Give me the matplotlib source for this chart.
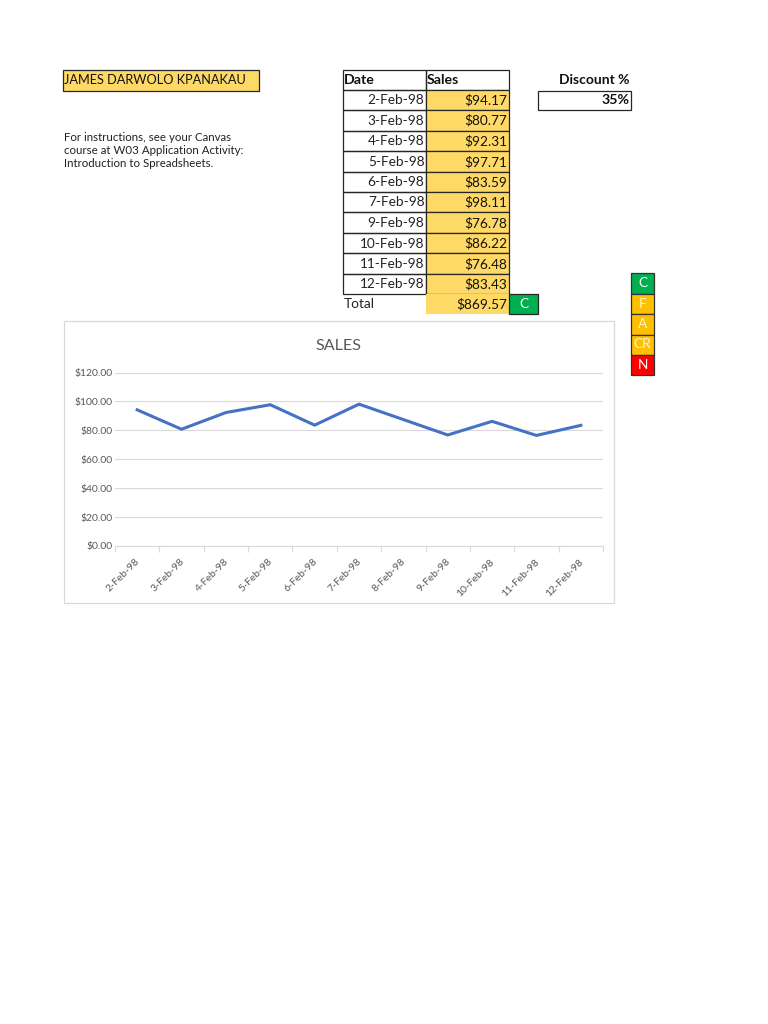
#!/usr/bin/env python
"""
Spreadsheet page with a sales table and a line chart of the daily sales.
"""

import matplotlib

matplotlib.use("Agg")
import matplotlib.pyplot as plt
from matplotlib.patches import Rectangle

plt.rcParams["font.family"] = ["Lato", "DejaVu Sans"]

dates = ["2-Feb-98", "3-Feb-98", "4-Feb-98", "5-Feb-98", "6-Feb-98", "7-Feb-98",
         "9-Feb-98", "10-Feb-98", "11-Feb-98", "12-Feb-98"]
sales = [94.17, 80.77, 92.31, 97.71, 83.59, 98.11, 76.78, 86.22, 76.48, 83.43]
sales_days = [2, 3, 4, 5, 6, 7, 9, 10, 11, 12]
total_label = "$869.57"

axis_days = [2, 3, 4, 5, 6, 7, 8, 9, 10, 11, 12]
axis_labels = ["2-Feb-98", "3-Feb-98", "4-Feb-98", "5-Feb-98", "6-Feb-98", "7-Feb-98",
               "8-Feb-98", "9-Feb-98", "10-Feb-98", "11-Feb-98", "12-Feb-98"]
y_ticks = [0, 20, 40, 60, 80, 100, 120]

grade_labels = ["C", "F", "A", "CR", "N"]
grade_colors = ["#00B050", "#FFC000", "#FFC000", "#FFC000", "#FF0000"]

row_edges = [70, 90, 110, 130.5, 151, 171.5, 192, 212, 233, 253, 273.5, 294, 314]
grade_edges = [273, 293.5, 314, 334.5, 354.5, 375]

YELLOW = "#FFD966"
EDGE = "#262626"
TEXT = "#111111"
W, H = 768, 1024

fig = plt.figure(figsize=(W / 100, H / 100), dpi=100, facecolor="white")

# full page axes in pixel units, for the cells
page = fig.add_axes([0, 0, 1, 1])
page.set_xlim(0, W)
page.set_ylim(H, 0)
page.axis("off")


def cell(x0, y0, x1, y1, fill="none", edge=EDGE, lw=0.9):
    page.add_patch(Rectangle((x0, y0), x1 - x0, y1 - y0, facecolor=fill,
                             edgecolor=edge, linewidth=lw))


def label(x, y, s, ha="left", size=9.8, color=TEXT, weight="normal"):
    page.text(x, y, s, ha=ha, va="center", fontsize=size, color=color, fontweight=weight)


# name and instructions
cell(62.6, 70, 259.1, 91, fill=YELLOW)
label(64, 80.5, "JAMES DARWOLO KPANAKAU", size=9.2)
for y, line in zip([137.5, 150.5, 163.5],
                   ["For instructions, see your Canvas",
                    "course at W03 Application Activity:",
                    "Introduction to Spreadsheets."]):
    label(64.5, y, line, size=8.3, color="#222222")

# sales table
cell(342.6, row_edges[0], 425.6, row_edges[1])
cell(425.6, row_edges[0], 509.1, row_edges[1])
label(344, 80, "Date", weight="bold", size=10.2)
label(427, 80, "Sales", weight="bold", size=10.2)
for i, (d, s) in enumerate(zip(axis_labels[:6] + axis_labels[7:], sales)):
    top, bottom = row_edges[i + 1], row_edges[i + 2]
    mid = (top + bottom) / 2 + 0.5
    cell(342.6, top, 425.6, bottom)
    cell(425.6, top, 509.1, bottom, fill=YELLOW)
    label(424.5, mid, d, ha="right", color="#222222")
    label(507.5, mid, f"${s:.2f}", ha="right")

# total row
page.add_patch(Rectangle((425.6, 294), 83.5, 20, facecolor=YELLOW, edgecolor="none"))
label(344, 304, "Total", color="#222222")
label(507.5, 304, total_label, ha="right")
cell(509.1, 293.5, 538.1, 314, fill="#00B050")
label(524, 304, "C", ha="center", color="white")

# discount
label(629.5, 80, "Discount %", ha="right", weight="bold", size=10)
cell(538.1, 90.5, 630.6, 110)
label(629.5, 100, "35%", ha="right", weight="bold", size=10.2)

# grade key
for i, (g, c) in enumerate(zip(grade_labels, grade_colors)):
    cell(630.6, grade_edges[i], 653.6, grade_edges[i + 1], fill=c, edge="#333333")
    label(642.5, (grade_edges[i] + grade_edges[i + 1]) / 2, g, ha="center",
          color="#FFF4D0" if c == "#FFC000" else "white")

# chart frame
cell(63.6, 321, 613.6, 603, fill="white", edge="#D9D9D9", lw=0.9)
page.text(338.5, 345.5, "SALES", ha="center", va="center", fontsize=11.6, color="#595959")

# chart
ax = fig.add_axes([115 / W, 1 - 546 / H, (603 - 115) / W, (546 - 372.5) / H])
ax.patch.set_alpha(0)
ax.plot(sales_days, sales, color="#4472C4", linewidth=2.2, solid_joinstyle="round")
ax.set_xlim(1.5, 12.5)
ax.set_ylim(0, 120)
ax.set_yticks(y_ticks)
ax.set_yticklabels([f"${v:.2f}" for v in y_ticks], fontsize=7.5, color="#595959")
ax.set_xticks([d - 0.5 for d in axis_days] + [12.5])
ax.set_xticklabels([])
ax.tick_params(axis="y", length=0, pad=2)
ax.tick_params(axis="x", length=4, color="#D9D9D9", width=0.8)
ax.grid(axis="y", color="#D9D9D9", linewidth=0.8)
ax.set_axisbelow(True)
for name in ["top", "left", "right"]:
    ax.spines[name].set_visible(False)
ax.spines["bottom"].set_color("#D9D9D9")
ax.spines["bottom"].set_linewidth(0.8)

# category labels rotated, ending just under the tick centre
for d, s in zip(axis_days, axis_labels):
    ax.annotate(s, xy=(d, 0), xycoords=("data", "axes fraction"), xytext=(-1.5, -8),
                textcoords="offset points", rotation=45, ha="right", va="top",
                rotation_mode="anchor", fontsize=7.5, color="#595959")

fig.savefig("out.png", dpi=100, facecolor="white")
